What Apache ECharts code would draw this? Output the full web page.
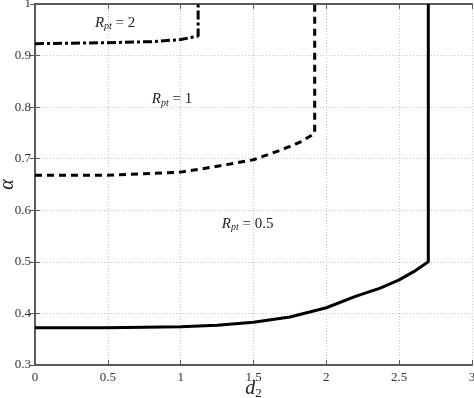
<!DOCTYPE html>
<html>
<head>
<meta charset="utf-8">
<script src="https://cdn.jsdelivr.net/npm/echarts@6/dist/echarts.min.js"></script>
<style>
  html, body { margin: 0; padding: 0; background: #fff; }
  #main { width: 474px; height: 398px; }
</style>
</head>
<body>
<div id="main"></div>
<script>
var xTicks = [0, 0.5, 1, 1.5, 2, 2.5, 3];
var yTicks = [0.3, 0.4, 0.5, 0.6, 0.7, 0.8, 0.9, 1];

// R_pt = 0.5 (solid)
var d2Half = [0, 0.5, 1, 1.25, 1.5, 1.75, 2, 2.2, 2.37, 2.5, 2.6, 2.7, 2.7];
var alphaHalf = [0.372, 0.372, 0.374, 0.377, 0.383, 0.393, 0.411, 0.433, 0.449, 0.465, 0.481, 0.5, 1.0];
// R_pt = 1 (dashed)
var d2One = [0, 0.5, 1, 1.225, 1.5, 1.68, 1.82, 1.92, 1.92];
var alphaOne = [0.668, 0.668, 0.674, 0.684, 0.698, 0.716, 0.732, 0.749, 1.0];
// R_pt = 2 (dash-dot)
var d2Two = [0, 0.5, 0.8, 1, 1.12, 1.12];
var alphaTwo = [0.923, 0.925, 0.927, 0.931, 0.938, 1.0];

var labelTexts = ['2', '1', '0.5'];
var labelPos = [[0.55, 0.964], [0.94, 0.815], [1.46, 0.573]];

function pairs(xs, ys) {
  return xs.map(function (x, i) { return [x, ys[i]]; });
}

var serif = '"Liberation Serif", "DejaVu Serif", serif';
var axisColor = '#5a5a5a';

var rich = {
  r: { fontFamily: serif, fontStyle: 'italic', fontSize: 15, color: '#222' },
  s: { fontFamily: serif, fontStyle: 'italic', fontSize: 10, color: '#222', padding: [7, 0, 0, 0] },
  v: { fontFamily: serif, fontSize: 15, color: '#222' }
};

function tag(i) {
  return {
    data: [{ coord: labelPos[i] }],
    symbol: 'circle',
    symbolSize: 0,
    label: {
      show: true,
      position: 'inside',
      formatter: '{r|R}{s|pt}{v| = ' + labelTexts[i] + '}',
      rich: rich
    }
  };
}

function lineSeries(data, type, i) {
  return {
    type: 'line',
    data: data,
    symbol: 'none',
    silent: true,
    lineStyle: { color: '#000', width: 3, type: type },
    markPoint: tag(i)
  };
}

var tickStyle = { show: true, inside: true, length: 5, lineStyle: { color: axisColor } };
var gridLine = { show: true, lineStyle: { color: '#c4c4c4', type: [1, 2], width: 1 } };

var option = {
  animation: false,
  backgroundColor: '#fff',
  grid: { left: 35, right: 2, top: 4, bottom: 33, outerBoundsMode: 'none', containLabel: false },
  xAxis: [
    {
      type: 'value', min: 0, max: 3, interval: 0.5,
      axisLine: { show: true, lineStyle: { color: axisColor, width: 2 } },
      axisTick: tickStyle,
      splitLine: gridLine,
      axisLabel: { fontFamily: serif, fontSize: 13, color: '#333', margin: 6 },
      name: '{d|d}{s|2}',
      nameLocation: 'middle',
      nameGap: 12,
      nameMoveOverlap: false,
      nameTextStyle: {
        rich: {
          d: { fontFamily: serif, fontStyle: 'italic', fontSize: 20, color: '#222' },
          s: { fontFamily: serif, fontSize: 13, color: '#222', padding: [10, 0, 0, 0] }
        }
      }
    },
    {
      type: 'value', min: 0, max: 3, interval: 0.5, position: 'top',
      axisLine: { show: true, lineStyle: { color: axisColor, width: 2 } },
      axisTick: tickStyle, axisLabel: { show: false }, splitLine: { show: false }
    }
  ],
  yAxis: [
    {
      type: 'value', min: 0.3, max: 1, interval: 0.1,
      axisLine: { show: true, lineStyle: { color: axisColor, width: 2 } },
      axisTick: tickStyle,
      splitLine: gridLine,
      axisLabel: { fontFamily: serif, fontSize: 13, color: '#333', margin: 4 },
      name: 'α',
      nameLocation: 'middle',
      nameRotate: 90,
      nameGap: 17,
      nameMoveOverlap: false,
      nameTextStyle: { fontFamily: serif, fontStyle: 'italic', fontSize: 20, color: '#222' }
    },
    {
      type: 'value', min: 0.3, max: 1, interval: 0.1, position: 'right',
      axisLine: { show: true, lineStyle: { color: axisColor, width: 2 } },
      axisTick: tickStyle, axisLabel: { show: false }, splitLine: { show: false }
    }
  ],
  series: [
    lineSeries(pairs(d2Two, alphaTwo), [9, 3, 3, 3], 0),
    lineSeries(pairs(d2One, alphaOne), [7, 5], 1),
    lineSeries(pairs(d2Half, alphaHalf), 'solid', 2)
  ]
};

var chart = echarts.init(document.getElementById('main'));
chart.setOption(option);
</script>
</body>
</html>
